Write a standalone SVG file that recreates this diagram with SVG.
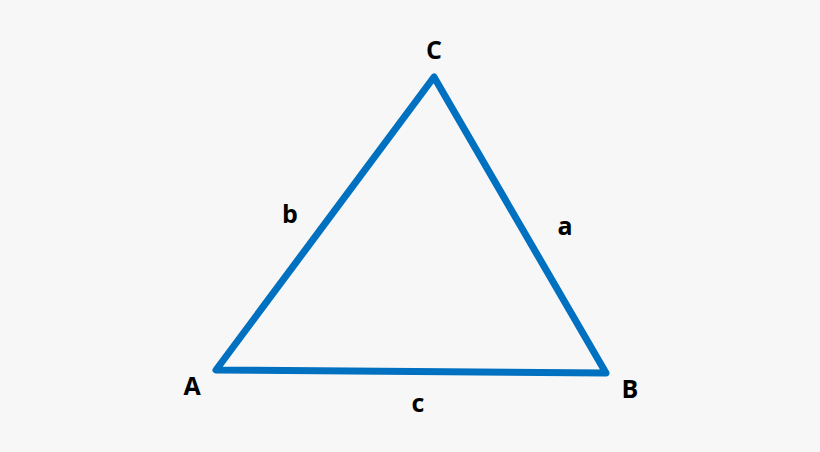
<svg xmlns="http://www.w3.org/2000/svg" width="820" height="452" viewBox="0 0 820 452">
<style>
.lbl{font-family:"Open Sans","Liberation Sans",sans-serif;font-weight:bold;font-size:25px;fill:#000;text-anchor:middle}
.edge{fill:none;stroke:#0070C0;stroke-width:7;stroke-linejoin:round;stroke-linecap:round}
</style>
<rect width="820" height="452" fill="#f7f7f7"/>
<g id="connectors">
<polygon class="edge" points="216,370 606,373 434,77"/>
</g>
<g id="vertex-C"><text class="lbl" x="434" y="59">C</text></g>
<g id="vertex-A"><text class="lbl" x="192" y="395">A</text></g>
<g id="vertex-B"><text class="lbl" x="630" y="398">B</text></g>
<g id="side-b"><text class="lbl" x="290" y="223">b</text></g>
<g id="side-a"><text class="lbl" x="565" y="235">a</text></g>
<g id="side-c"><text class="lbl" x="418" y="412">c</text></g>
</svg>
